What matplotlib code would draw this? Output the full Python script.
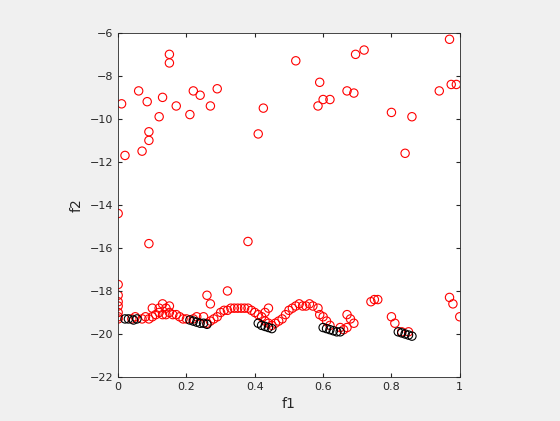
import matplotlib.pyplot as plt

# dominated / population points (red)
red_x = [0.0, 0.01, 0.02, 0.06, 0.07, 0.085, 0.09, 0.09, 0.09, 0.12, 0.13, 0.15, 0.15, 0.17,
         0.21, 0.22, 0.24, 0.27, 0.29, 0.38, 0.41, 0.425, 0.52, 0.585, 0.59, 0.6, 0.62, 0.67,
         0.69, 0.695, 0.72, 0.8, 0.84, 0.86, 0.94, 0.97, 0.975, 0.99,
         # bottom band
         0.0, 0.0, 0.0, 0.0, 0.0, 0.0, 0.0, 0.07, 0.08, 0.09, 0.1, 0.11, 0.12, 0.13, 0.14,
         0.15, 0.16, 0.17, 0.18, 0.19, 0.2, 0.12, 0.13, 0.14, 0.15, 0.05, 0.04, 0.1,
         0.26, 0.27, 0.28, 0.29, 0.3, 0.31, 0.32, 0.33, 0.34, 0.35, 0.36, 0.37, 0.38, 0.39,
         0.4, 0.41, 0.42, 0.43, 0.44, 0.32, 0.26, 0.27, 0.25, 0.22, 0.23,
         0.45, 0.46, 0.47, 0.48, 0.49, 0.5, 0.51, 0.52, 0.53, 0.54, 0.55, 0.56, 0.57, 0.585,
         0.59, 0.6, 0.61, 0.62, 0.67, 0.68, 0.69, 0.67, 0.75, 0.76, 0.74, 0.8, 0.81,
         0.97, 0.98, 1.0, 0.44, 0.43, 0.66, 0.65, 0.83, 0.85]
red_y = [-14.4, -9.3, -11.7, -8.7, -11.5, -9.2, -10.6, -11.0, -15.8, -9.9, -9.0, -7.4, -7.0, -9.4,
         -9.8, -8.7, -8.9, -9.4, -8.6, -15.7, -10.7, -9.5, -7.3, -9.4, -8.3, -9.1, -9.1, -8.7,
         -8.8, -7.0, -6.8, -9.7, -11.6, -9.9, -8.7, -6.3, -8.4, -8.4,
         -17.7, -18.2, -18.5, -18.7, -19.0, -19.2, -19.3, -19.3, -19.2, -19.3, -19.2, -19.1, -19.0, -19.1, -19.1,
         -19.0, -19.1, -19.1, -19.2, -19.3, -19.3, -18.8, -18.6, -18.8, -18.7, -19.2, -19.3, -18.8,
         -19.5, -19.4, -19.3, -19.2, -19.0, -18.9, -18.9, -18.8, -18.8, -18.8, -18.8, -18.8, -18.8, -18.9,
         -19.0, -19.1, -19.2, -19.4, -19.5, -18.0, -18.2, -18.6, -19.2, -19.3, -19.2,
         -19.6, -19.5, -19.4, -19.3, -19.1, -18.9, -18.8, -18.7, -18.6, -18.7, -18.7, -18.6, -18.7, -18.8,
         -19.1, -19.2, -19.4, -19.6, -19.1, -19.3, -19.5, -19.7, -18.4, -18.4, -18.5, -19.2, -19.5,
         -18.3, -18.6, -19.2, -18.8, -19.0, -19.8, -19.7, -19.9, -19.9]

# non-dominated front (black)
front_x = [0.02, 0.03, 0.045, 0.055, 0.21, 0.22, 0.23, 0.24, 0.25, 0.26, 0.41, 0.42, 0.43, 0.44, 0.45,
           0.6, 0.61, 0.62, 0.63, 0.64, 0.65, 0.82, 0.83, 0.84, 0.85, 0.86]
front_y = [-19.3, -19.3, -19.35, -19.3, -19.35, -19.4, -19.45, -19.5, -19.5, -19.55, -19.5, -19.6, -19.65,
           -19.7, -19.75, -19.7, -19.75, -19.8, -19.85, -19.9, -19.9, -19.9, -19.95, -20.0, -20.05, -20.1]

fig = plt.figure(figsize=(5.6, 4.21), dpi=100, facecolor="#f0f0f0")
ax = fig.add_axes([0.211, 0.1045, 0.61, 0.8175])
ax.scatter(red_x, red_y, s=36, facecolors="none", edgecolors="red", linewidths=0.8)
ax.scatter(front_x, front_y, s=36, facecolors="none", edgecolors="black", linewidths=0.8)
ax.set_xlim(0, 1)
ax.set_ylim(-22, -6)
ax.set_xticks([0, 0.2, 0.4, 0.6, 0.8, 1])
ax.set_xticklabels(["0", "0.2", "0.4", "0.6", "0.8", "1"])
ax.set_yticks(range(-22, -5, 2))
ax.tick_params(direction="in", labelsize=8, length=3, top=True, right=True, colors="#262626")
ax.set_xlabel("f1", fontsize=10, color="#262626")
ax.set_ylabel("f2", fontsize=10, color="#262626")
for s in ax.spines.values():
    s.set_color("#262626")
    s.set_linewidth(0.6)
fig.savefig("out.png", dpi=100, facecolor=fig.get_facecolor())
